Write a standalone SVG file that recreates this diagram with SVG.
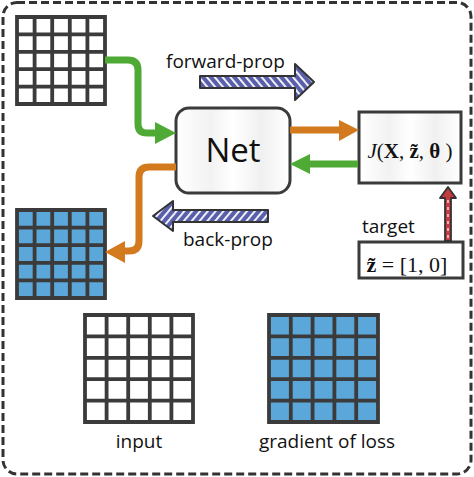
<svg xmlns="http://www.w3.org/2000/svg" width="474" height="477" viewBox="0 0 474 477">
<defs>
<style>
.grid{fill:none;stroke:#3b3b3b;stroke-width:3.8}
.wcell{fill:#ffffff}
.bcell{fill:#5ba7da}
.lbl{font-family:"Open Sans","Noto Sans",sans-serif;font-size:19px;fill:#111}
.math{font-family:"Liberation Serif",serif;fill:#111}
.box{fill:#ffffff;stroke:#3b3b3b;stroke-width:3}
.conn{fill:none;stroke-width:7;stroke-linejoin:round}
</style>
<linearGradient id="boxg" x1="0" y1="0" x2="1" y2="0">
<stop offset="0" stop-color="#ffffff"/>
<stop offset="0.3" stop-color="#f2f2f2"/>
<stop offset="0.5" stop-color="#ffffff"/>
<stop offset="0.75" stop-color="#f0f0f0"/>
<stop offset="1" stop-color="#ffffff"/>
</linearGradient>
<pattern id="hatchF" width="6" height="6" patternUnits="userSpaceOnUse" patternTransform="rotate(-40)">
<rect width="6" height="6" fill="#5a5fab"/>
<rect width="1.8" height="6" fill="#ffffff"/>
</pattern>
<pattern id="hatchB" width="6" height="6" patternUnits="userSpaceOnUse" patternTransform="rotate(40)">
<rect width="6" height="6" fill="#5a5fab"/>
<rect width="1.8" height="6" fill="#ffffff"/>
</pattern>
</defs>

<rect x="3" y="2.5" width="468" height="471.5" rx="14" fill="#ffffff" stroke="#333" stroke-width="3" stroke-dasharray="8,4"/>

<g id="grid-input-top">
<rect x="17" y="17" width="88" height="87" class="wcell"/>
<path class="grid" d="M17,17H105V104H17Z M34.6,17V104 M52.2,17V104 M69.8,17V104 M87.4,17V104 M17,34.4H105 M17,51.8H105 M17,69.2H105 M17,86.6H105"/>
</g>

<g id="grid-grad-left">
<rect x="17" y="210" width="88" height="88" class="bcell"/>
<path class="grid" d="M17,210H105V298H17Z M34.6,210V298 M52.2,210V298 M69.8,210V298 M87.4,210V298 M17,227.6H105 M17,245.2H105 M17,262.8H105 M17,280.4H105"/>
</g>

<g id="net">
<rect x="176" y="108" width="114" height="85" rx="13" fill="url(#boxg)" stroke="#3b3b3b" stroke-width="3"/>
<text x="233" y="162" text-anchor="middle" font-family="Open Sans,Noto Sans,sans-serif" font-size="33" fill="#111">Net</text>
</g>

<g id="loss">
<rect x="359" y="112" width="102" height="71" fill="url(#boxg)" stroke="#3b3b3b" stroke-width="3"/>
<text x="410" y="158" text-anchor="middle" class="math" font-size="21"><tspan font-style="italic">J</tspan>(<tspan font-weight="bold">X</tspan>, <tspan font-weight="bold">z̃</tspan>, <tspan font-weight="bold">θ</tspan> )</text>
</g>

<g id="target">
<rect x="359" y="242" width="104" height="36" class="box"/>
<text x="407" y="272" text-anchor="middle" class="math" font-size="22"><tspan font-weight="bold">z̃</tspan> = [1, 0]</text>
</g>

<g id="grid-input-bottom">
<rect x="85" y="315" width="108" height="107" class="wcell"/>
<path class="grid" d="M85,315H193V422H85Z M106.6,315V422 M128.2,315V422 M149.8,315V422 M171.4,315V422 M85,336.4H193 M85,357.8H193 M85,379.2H193 M85,400.6H193"/>
</g>

<g id="grid-grad-bottom">
<rect x="269" y="315" width="109" height="107" class="bcell"/>
<path class="grid" d="M269,315H378V422H269Z M290.8,315V422 M312.6,315V422 M334.4,315V422 M356.2,315V422 M269,336.4H378 M269,357.8H378 M269,379.2H378 M269,400.6H378"/>
</g>

<g id="labels">
<text x="166" y="68" class="lbl">forward-prop</text>
<text x="183" y="246" class="lbl">back-prop</text>
<text x="362" y="233" class="lbl">target</text>
<text x="139" y="448" text-anchor="middle" class="lbl">input</text>
<text x="327" y="448" text-anchor="middle" class="lbl">gradient of loss</text>
</g>

<g id="connectors">
<path class="conn" stroke="#4faa35" d="M105,60H128Q138,60 138,70V124Q138,133 147,133H158"/>
<polygon fill="#4faa35" points="155,122 176,133 155,144"/>
<path class="conn" stroke="#d37a1e" d="M176,167H149Q139,167 139,177V241Q139,251 129,251H122"/>
<polygon fill="#d37a1e" points="125,241 105,252 125,263"/>
<path class="conn" stroke="#d37a1e" d="M290,130H342"/>
<polygon fill="#d37a1e" points="339,120 359,130 339,141"/>
<path class="conn" stroke="#4faa35" d="M358,164H306"/>
<polygon fill="#4faa35" points="310,154 290,164 310,174"/>
<polygon fill="url(#hatchF)" stroke="#333" stroke-width="2" stroke-linejoin="round" points="200,76 295,76 295,64 314,82 295,100 295,88 200,88"/>
<polygon fill="url(#hatchB)" stroke="#333" stroke-width="2" stroke-linejoin="round" points="268,210 173,210 173,201 153,216 173,231 173,222 268,222"/>
<polygon fill="#c33a40" stroke="#333" stroke-width="1.8" stroke-linejoin="round" points="448,187 456,198 451,198 451,241 445,241 445,198 440,198"/>
<path d="M448,200V240" stroke="#ffffff" stroke-width="1.2" stroke-dasharray="3,4"/>
</g>
</svg>
